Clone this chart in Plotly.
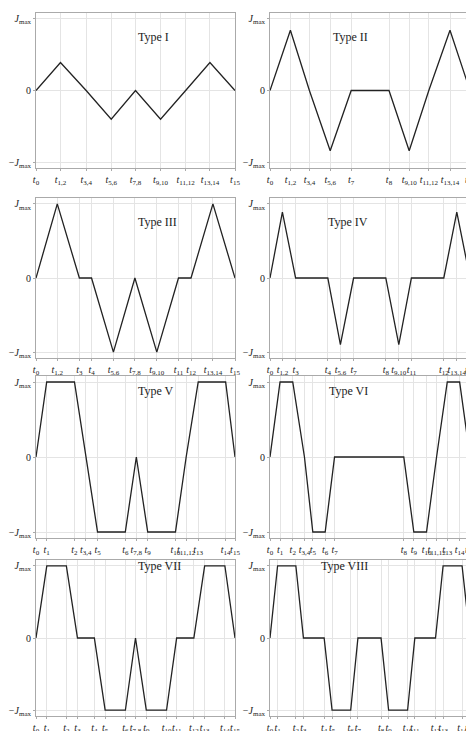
import plotly.graph_objects as go
from plotly.subplots import make_subplots

titles = ["Type I", "Type II", "Type III", "Type IV", "Type V", "Type VI", "Type VII", "Type VIII"]

# time instants (normalized 0..1) and jerk values (units of Jmax)
t1 = [0, .123, .252, .378, .5, .626, .752, .874, 1]
l1 = ["0", "1,2", "3,4", "5,6", "7,8", "9,10", "11,12", "13,14", "15"]
j1 = [0, .39, 0, -.40, 0, -.40, 0, .39, 0]

t2 = [0, .102, .197, .301, .406, .595, .696, .794, .9, 1]
l2 = ["0", "1,2", "3,4", "5,6", "7", "8", "9,10", "11,12", "13,14", "15"]
j2 = [0, .84, 0, -.84, 0, 0, -.84, 0, .84, 0]

t3 = [0, .107, .218, .279, .389, .497, .607, .716, .779, .889, 1]
l3 = ["0", "1,2", "3", "4", "5,6", "7,8", "9,10", "11", "12", "13,14", "15"]
j3 = [0, 1, 0, 0, -1, 0, -1, 0, 0, 1, 0]

t4 = [0, .062, .128, .289, .352, .418, .579, .644, .707, .869, .934, 1]
l4 = ["0", "1,2", "3", "4", "5,6", "7", "8", "9,10", "11", "12", "13,14", "15"]
j4 = [0, .89, 0, 0, -.9, 0, 0, -.9, 0, 0, .89, 0]

px5 = [78, 110, 193, 227, 262, 345, 378, 412, 495, 527, 563, 645, 673]
l5 = ["0", "1", "2", "3,4", "5", "6", "7,8", "9", "10", "11,12", "13", "14", "15"]
j5 = [0, 1, 1, 0, -1, -1, 0, -1, -1, 0, 1, 1, 0]

px6 = [785, 815, 853, 888, 913, 950, 978, 1185, 1215, 1253, 1283, 1315, 1352, 1383]
l6 = ["0", "1", "2", "3,4", "5", "6", "7", "8", "9", "10", "11,12", "13", "14", "15"]
j6 = [0, 1, 1, 0, -1, -1, 0, 0, -1, -1, 0, 1, 1, 0]

px7 = [80, 112, 170, 203, 253, 285, 345, 375, 407, 467, 497, 548, 580, 640, 670]
l7 = ["0", "1", "2", "3", "4", "5", "6", "7,8", "9", "10", "11", "12", "13", "14", "15"]
j7 = [0, 1, 1, 0, 0, -1, -1, 0, -1, -1, 0, 0, 1, 1, 0]

px8 = [793, 815, 868, 890, 950, 973, 1027, 1048, 1115, 1137, 1192, 1213, 1273, 1295, 1350, 1373]
l8 = ["0", "1", "2", "3", "4", "5", "6", "7", "8", "9", "10", "11", "12", "13", "14", "15"]
j8 = [0, 1, 1, 0, 0, -1, -1, 0, 0, -1, -1, 0, 0, 1, 1, 0]

def norm(p):
    return [(v - p[0]) / (p[-1] - p[0]) for v in p]

panels = [(t1, l1, j1), (t2, l2, j2), (t3, l3, j3), (t4, l4, j4),
          (norm(px5), l5, j5), (norm(px6), l6, j6), (norm(px7), l7, j7), (norm(px8), l8, j8)]

fig = make_subplots(rows=4, cols=2)
W, H = 474, 731
xdom = [[28 / W, 227 / W], [262 / W, 462 / W]]
rows_px = [(5, 160), (190, 350), (368, 530), (552, 708)]
font = dict(family="Liberation Serif, Times New Roman, serif", color="#222")

for i, (t, lab, j) in enumerate(panels):
    r, c = i // 2 + 1, i % 2 + 1
    fig.add_trace(go.Scatter(x=t, y=j, mode="lines", line=dict(color="#222", width=1.3),
                             showlegend=False, hoverinfo="skip"), row=r, col=c)
    top, bot = rows_px[r - 1]
    ax = "" if i == 0 else str(i + 1)
    fig.layout["xaxis" + ax].update(
        domain=xdom[c - 1], range=[0, 1], tickvals=t,
        ticktext=[f"<i>t</i><sub>{s}</sub>" for s in lab],
        showgrid=True, gridcolor="#e4e4e4", gridwidth=1, zeroline=False,
        showline=True, linecolor="#aaa", mirror=True, ticks="outside", ticklen=2,
        tickcolor="#aaa", tickfont=dict(size=10, **font), tickangle=0, automargin=False)
    fig.layout["yaxis" + ax].update(
        domain=[1 - bot / H, 1 - top / H], range=[-1.08, 1.08], tickvals=[-1, 0, 1],
        ticktext=["−<i>J</i><sub>max</sub>", "0", "<i>J</i><sub>max</sub>"],
        showgrid=True, gridcolor="#e4e4e4", zeroline=False,
        showline=True, linecolor="#aaa", mirror=True, ticks="outside", ticklen=2,
        tickcolor="#aaa", tickfont=dict(size=10, **font), automargin=False)
    fig.add_annotation(text=titles[i], x=(xdom[c - 1][0] + xdom[c - 1][1]) / 2,
                       y=1 - (top + 15) / H, xref="paper", yref="paper", showarrow=False,
                       font=dict(size=12, **font))

fig.update_layout(width=W, height=H, margin=dict(l=0, r=0, t=0, b=0, autoexpand=False),
                  paper_bgcolor="white", plot_bgcolor="white")
fig.write_html("out.html")
